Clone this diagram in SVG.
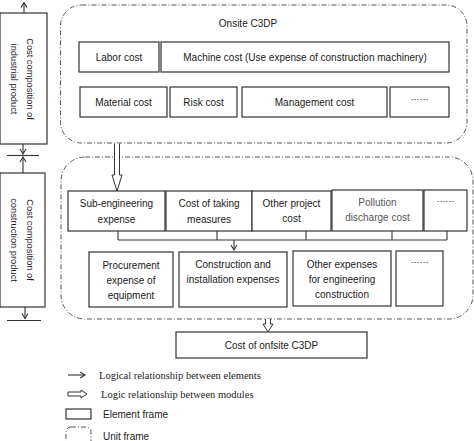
<svg xmlns="http://www.w3.org/2000/svg" width="474" height="441" viewBox="0 0 474 441">
<style>
.box{fill:#fff;stroke:#333;stroke-width:1.2}
.frame{fill:none;stroke:#555;stroke-width:1;stroke-dasharray:5 2 1 2}
.t{font-family:"Liberation Sans",Arial,sans-serif;font-size:10px;fill:#1a1a1a;text-anchor:middle}
.rt{font-size:9.3px}
.dots{font-family:"Noto Sans CJK SC","Liberation Sans",sans-serif;font-size:9px;fill:#222;text-anchor:middle}
.leg{font-family:"Liberation Serif","Times New Roman",serif;font-size:10.5px;fill:#222}
.legs{font-family:"Liberation Sans",Arial,sans-serif;font-size:10px;fill:#222}
.ln{fill:none;stroke:#333;stroke-width:1.1}
.hollow{fill:#fff;stroke:#333;stroke-width:1}
</style>
<defs>
<marker id="ah" markerWidth="8" markerHeight="8" refX="6" refY="4" orient="auto" markerUnits="userSpaceOnUse">
<path d="M1,1 L6,4 L1,7" fill="none" stroke="#333" stroke-width="1.1"/>
</marker>
</defs>
<rect width="474" height="441" fill="#fff"/>

<g id="left-industrial">
<rect class="box" x="0" y="13" width="47" height="131"/>
<text class="t rt" transform="translate(22,79) rotate(90)"><tspan x="0" y="-4.5">Cost composition of</tspan><tspan x="0" y="11.5">industrial product</tspan></text>
</g>
<g id="left-construction">
<rect class="box" x="0" y="173" width="45" height="134"/>
<text class="t rt" transform="translate(22,240) rotate(90)"><tspan x="0" y="-4.5">Cost composition of</tspan><tspan x="0" y="11.5">construction product</tspan></text>
</g>

<g id="frame-onsite">
<rect class="frame" x="60.5" y="5" width="406.5" height="138" rx="21"/>
<text class="t" x="248" y="27">Onsite C3DP</text>
</g>
<g id="frame-construction">
<rect class="frame" x="61" y="157" width="412" height="162" rx="24"/>
</g>

<g id="n-labor"><rect class="box" x="79" y="42" width="80" height="30"/><text class="t" x="119" y="60.5">Labor cost</text></g>
<g id="n-machine"><rect class="box" x="161" y="42" width="288" height="30"/><text class="t" x="305" y="60.5">Machine cost (Use expense of construction machinery)</text></g>
<g id="n-material"><rect class="box" x="80" y="87" width="87" height="30"/><text class="t" x="123.5" y="105.5">Material cost</text></g>
<g id="n-risk"><rect class="box" x="170" y="87" width="67" height="30"/><text class="t" x="203.5" y="105.5">Risk cost</text></g>
<g id="n-management"><rect class="box" x="242" y="87" width="145" height="30"/><text class="t" x="314.5" y="105.5">Management cost</text></g>
<g id="n-more1"><rect class="box" x="390" y="87" width="59" height="30"/><text class="dots" x="419.5" y="103">……</text></g>

<g id="n-subeng"><rect class="box" x="68" y="191" width="97" height="40"/><text class="t" x="116.5" y="206.5">Sub-engineering</text><text class="t" x="116.5" y="222.5">expense</text></g>
<g id="n-measures"><rect class="box" x="166" y="191" width="86" height="40"/><text class="t" x="209" y="206.5">Cost of taking</text><text class="t" x="209" y="222.5">measures</text></g>
<g id="n-otherproj"><rect class="box" x="252" y="191" width="79" height="40"/><text class="t" x="291.5" y="206.5">Other project</text><text class="t" x="291.5" y="222">cost</text></g>
<g id="n-pollution"><rect class="box" x="332" y="190" width="91" height="41"/><text class="t" x="377.5" y="205.5" style="fill:#555">Pollution</text><text class="t" x="377.5" y="221" style="fill:#555">discharge cost</text></g>
<g id="n-more2"><rect class="box" x="424" y="190" width="43" height="41"/><text class="dots" x="445.5" y="205">……</text></g>

<g id="n-procurement"><rect class="box" x="89" y="252" width="84" height="55"/><text class="t" x="131" y="268.5">Procurement</text><text class="t" x="131" y="283.5">expense of</text><text class="t" x="131" y="298.5">equipment</text></g>
<g id="n-construction"><rect class="box" x="179" y="252" width="108" height="55"/><text class="t" x="233" y="267.5">Construction and</text><text class="t" x="233" y="282.5">installation expenses</text></g>
<g id="n-otherexp"><rect class="box" x="293" y="251" width="98" height="55"/><text class="t" x="342" y="267.5">Other expenses</text><text class="t" x="342" y="282.5">for engineering</text><text class="t" x="342" y="297.5">construction</text></g>
<g id="n-more3"><rect class="box" x="396" y="251" width="47" height="55"/><text class="dots" x="419.5" y="266">……</text></g>

<g id="n-total"><rect class="box" x="176" y="332" width="191" height="26"/><text class="t" x="271.5" y="348.5">Cost of onfsite C3DP</text></g>

<g id="connectors">
<line class="ln" x1="24" y1="13" x2="24" y2="2.5" marker-end="url(#ah)"/>
<line class="ln" x1="23" y1="144" x2="23" y2="154" marker-end="url(#ah)"/>
<line class="ln" x1="7" y1="155.5" x2="39" y2="155.5"/>
<line class="ln" x1="23" y1="173" x2="23" y2="157" marker-end="url(#ah)"/>
<line class="ln" x1="25" y1="307" x2="25" y2="318.5" marker-end="url(#ah)"/>
<line class="ln" x1="7" y1="320.5" x2="41" y2="320.5"/>
<path class="hollow" d="M114.5,143.5 V175 H112 L117,191 L122,175 H119.5 V143.5"/>
<path class="ln" d="M118,231 V240 M217,231 V240 M306,231 V240 M392,231 V240 M447,231 V240 M118,240 H447"/>
<line class="ln" x1="234" y1="240" x2="234" y2="250" marker-end="url(#ah)"/>
<path class="hollow" d="M265.5,319 V324 H263 L268,332 L273,324 H270.5 V319"/>
</g>

<g id="legend">
<line class="ln" x1="68" y1="375" x2="85" y2="375" marker-end="url(#ah)"/>
<text class="leg" x="99" y="379">Logical relationship between elements</text>
<path class="hollow" d="M68,392 H81 V390 L87,394 L81,398 V396 H68 Z"/>
<text class="leg" x="101" y="397.5">Logic relationship between modules</text>
<rect class="box" x="66" y="409" width="25" height="10"/>
<text class="legs" x="103" y="417.5">Element frame</text>
<rect class="frame" x="66" y="427" width="25" height="22" rx="5"/>
<text class="legs" x="103" y="440">Unit frame</text>
</g>
</svg>
